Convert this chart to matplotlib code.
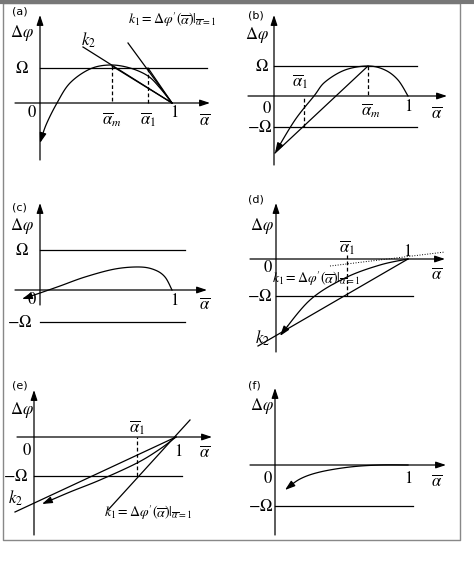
import numpy as np
import matplotlib
matplotlib.use("Agg")
import matplotlib.pyplot as plt

plt.rcParams['mathtext.fontset'] = 'stix'

# all geometry in image pixels (y down)
# panel axes: (x0, x1, y_axis_x, xaxis_y, ytop, ybot)
axes_def = {
    'a': (15, 210, 40, 103, 15, 160),
    'b': (248, 447, 274, 96, 15, 165),
    'c': (15, 207, 40, 290, 203, 305),
    'd': (250, 445, 276, 259, 203, 352),
    'e': (17, 212, 34, 437, 390, 535),
    'f': (250, 446, 275, 465, 388, 535),
}
hlines = {
    'a': [(68, 40, 207)],
    'b': [(66, 274, 417), (127, 274, 417)],
    'c': [(250, 40, 185), (322, 40, 185)],
    'd': [(296, 276, 413)],
    'e': [(476, 34, 182)],
    'f': [(506, 275, 413)],
}
curves = {
    'a': [(172, 103), (160, 88), (148, 76), (130, 68), (110, 65), (90, 69), (70, 83), (57, 103), (46, 125), (40, 143)],
    'b': [(408, 96), (398, 80), (385, 70), (368, 66), (345, 70), (325, 82), (314, 96), (295, 120), (275, 153)],
    'c': [(172, 290), (165, 277), (155, 270), (140, 267), (115, 269), (85, 277), (60, 286), (40, 293), (22, 299)],
    'd': [(408, 259), (380, 265), (345, 278), (310, 300), (280, 336)],
    'e': [(176, 437), (160, 449), (137, 463), (100, 480), (70, 492), (42, 504)],
    'f': [(408, 465), (380, 465), (350, 467), (320, 472), (300, 479), (285, 490)],
}
straight = {
    'a': [((83, 47), (172, 103)), ((128, 43), (172, 103)), ((112, 66), (172, 103)), ((148, 68), (172, 103))],
    'b': [((368, 66), (275, 153))],
    'd': [((258, 346), (408, 259))],
    'e': [((15, 512), (176, 437)), ((108, 510), (190, 420))],
}
dotted = {'d': [((330, 266), (445, 252))]}
dashed = {
    'a': [(112, 66, 103), (148, 68, 103)],
    'b': [(304, 127, 96), (368, 66, 96)],
    'd': [(347, 296, 255)],
    'e': [(137, 476, 437)],
}
ab = r'$\overline{\alpha}$'
k1txt = r'$k_1=\Delta\varphi^{\prime}(\overline{\alpha})|_{\overline{\alpha}=1}$'
labels = {
    'a': [(12, 12, '(a)', 'p'), (22, 33, r'$\Delta\varphi$', 'm'), (22, 68, r'$\Omega$', 'm'),
          (32, 112, '$0$', 'm'), (112, 120, r'$\overline{\alpha}_m$', 'm'), (148, 120, r'$\overline{\alpha}_1$', 'm'),
          (174, 112, '$1$', 'm'), (205, 120, ab, 'm'), (172, 20, k1txt, 's'), (88, 40, r'$k_2$', 'm')],
    'b': [(248, 15, '(b)', 'p'), (257, 35, r'$\Delta\varphi$', 'm'), (262, 66, r'$\Omega$', 'm'),
          (300, 82, r'$\overline{\alpha}_1$', 'm'), (267, 108, '$0$', 'm'), (260, 127, r'$-\Omega$', 'm'),
          (371, 111, r'$\overline{\alpha}_m$', 'm'), (408, 106, '$1$', 'm'), (437, 113, ab, 'm')],
    'c': [(12, 207, '(c)', 'p'), (22, 226, r'$\Delta\varphi$', 'm'), (22, 250, r'$\Omega$', 'm'),
          (32, 299, '$0$', 'm'), (174, 300, '$1$', 'm'), (205, 304, ab, 'm'), (20, 322, r'$-\Omega$', 'm')],
    'd': [(248, 200, '(d)', 'p'), (262, 226, r'$\Delta\varphi$', 'm'), (347, 248, r'$\overline{\alpha}_1$', 'm'),
          (407, 251, '$1$', 'm'), (268, 267, '$0$', 'm'), (316, 279, k1txt, 's'), (437, 274, ab, 'm'),
          (260, 296, r'$-\Omega$', 'm'), (262, 338, r'$k_2$', 'm')],
    'e': [(12, 385, '(e)', 'p'), (22, 410, r'$\Delta\varphi$', 'm'), (137, 428, r'$\overline{\alpha}_1$', 'm'),
          (27, 450, '$0$', 'm'), (178, 451, '$1$', 'm'), (205, 452, ab, 'm'), (16, 476, r'$-\Omega$', 'm'),
          (15, 498, r'$k_2$', 'm'), (148, 513, k1txt, 's')],
    'f': [(248, 385, '(f)', 'p'), (262, 406, r'$\Delta\varphi$', 'm'), (268, 478, '$0$', 'm'),
          (408, 478, '$1$', 'm'), (437, 481, ab, 'm'), (261, 506, r'$-\Omega$', 'm')],
}


def smooth(pts, n=12):
    # Catmull-Rom path through the drawn control points
    p = np.array(pts, float)
    p = np.vstack([p[0], p, p[-1]])
    out = []
    t = np.linspace(0, 1, n, endpoint=False)[:, None]
    for i in range(1, len(p) - 2):
        p0, p1, p2, p3 = p[i - 1], p[i], p[i + 1], p[i + 2]
        out.append(0.5 * ((2 * p1) + (-p0 + p2) * t + (2 * p0 - 5 * p1 + 4 * p2 - p3) * t ** 2
                          + (-p0 + 3 * p1 - 3 * p2 + p3) * t ** 3))
    out.append(p[-2][None, :])
    return np.vstack(out)


fig = plt.figure(figsize=(4.74, 5.66), dpi=100)
ax = fig.add_axes([0, 0, 1, 1])
ax.set_xlim(0, 474)
ax.set_ylim(566, 0)
ax.axis('off')

lw = 0.9
arr = dict(arrowstyle='-|>,head_length=0.6,head_width=0.2', color='black', lw=lw, shrinkA=0, shrinkB=0)

# frame
ax.plot([3, 460, 460, 3, 3], [3, 3, 540, 540, 3], color='#888888', lw=1)
ax.plot([0, 474], [1.5, 1.5], color='#777777', lw=3)

for p, (x0, x1, yx, ya, yt, yb) in axes_def.items():
    ax.annotate('', xy=(x1, ya), xytext=(x0, ya), arrowprops=arr)
    ax.annotate('', xy=(yx, yt), xytext=(yx, yb), arrowprops=arr)
    for y, xa, xb in hlines.get(p, []):
        ax.plot([xa, xb], [y, y], color='black', lw=lw)
    c = smooth(curves[p])
    ax.plot(c[:-4, 0], c[:-4, 1], color='black', lw=lw)
    ax.annotate('', xy=(c[-1, 0], c[-1, 1]), xytext=(c[-5, 0], c[-5, 1]), arrowprops=arr)
    for a, b in straight.get(p, []):
        ax.plot([a[0], b[0]], [a[1], b[1]], color='black', lw=lw)
    for a, b in dotted.get(p, []):
        ax.plot([a[0], b[0]], [a[1], b[1]], color='black', lw=0.7, ls=':')
    for x, y1, y2 in dashed.get(p, []):
        ax.plot([x, x], [y1, y2], color='black', lw=lw, ls=(0, (3, 2)))
    for x, y, s, kind in labels[p]:
        if kind == 'p':
            ax.text(x, y, s, fontsize=8, ha='left', va='center', family='DejaVu Sans')
        elif kind == 's':
            ax.text(x, y, s, fontsize=10, ha='center', va='center')
        else:
            ax.text(x, y, s, fontsize=12, ha='center', va='center')

fig.savefig('out.png', dpi=100)
